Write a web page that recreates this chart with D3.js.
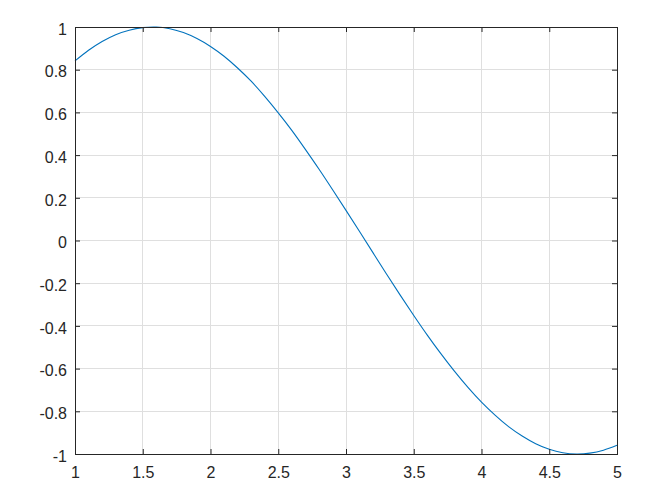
<!DOCTYPE html>
<html>
<head>
<meta charset="utf-8">
<script src="https://cdn.jsdelivr.net/npm/d3@7"></script>
<style>
  body { margin: 0; background: #fff; }
  svg { display: block; }
</style>
</head>
<body>
<div id="chart"></div>
<script>
// x positions and y values
var xs = [1.0, 1.1, 1.2, 1.3, 1.4, 1.5, 1.6, 1.7, 1.8, 1.9,
  2.0, 2.1, 2.2, 2.3, 2.4, 2.5, 2.6, 2.7, 2.8, 2.9,
  3.0, 3.1, 3.2, 3.3, 3.4, 3.5, 3.6, 3.7, 3.8, 3.9,
  4.0, 4.1, 4.2, 4.3, 4.4, 4.5, 4.6, 4.7, 4.8, 4.9, 5.0]
var ys = [0.841, 0.891, 0.932, 0.964, 0.985, 0.997, 1.000, 0.992, 0.974, 0.946,
  0.909, 0.863, 0.808, 0.746, 0.675, 0.598, 0.516, 0.427, 0.335, 0.239,
  0.141, 0.042, -0.058, -0.158, -0.256, -0.351, -0.443, -0.530, -0.612, -0.688,
  -0.757, -0.818, -0.872, -0.916, -0.952, -0.978, -0.994, -1.000, -0.996, -0.982, -0.959]

var xTicks = [1, 1.5, 2, 2.5, 3, 3.5, 4, 4.5, 5]
var yTicks = [-1, -0.8, -0.6, -0.4, -0.2, 0, 0.2, 0.4, 0.6, 0.8, 1]

var W = 655, H = 504
var margin = { top: 27, right: 38, bottom: 50, left: 75 },
  width = W - margin.left - margin.right,
  height = H - margin.top - margin.bottom

var svg = d3.select("#chart")
  .append("svg")
  .attr("width", W)
  .attr("height", H)
  .append("g")
  .attr("transform", "translate(" + margin.left + "," + margin.top + ")")

var x = d3.scaleLinear().domain([1, 5]).range([0, width])
var y = d3.scaleLinear().domain([-1, 1]).range([height, 0])

var fmt = function (d) { return String(d) }
var axisColor = "#262626"

// grid
svg.append("g")
  .selectAll("line.gx")
  .data(xTicks)
  .enter().append("line")
  .attr("x1", function (d) { return x(d) })
  .attr("x2", function (d) { return x(d) })
  .attr("y1", 0).attr("y2", height)
  .attr("stroke", "#dfdfdf")
  .attr("shape-rendering", "crispEdges")
svg.append("g")
  .selectAll("line.gy")
  .data(yTicks)
  .enter().append("line")
  .attr("y1", function (d) { return y(d) })
  .attr("y2", function (d) { return y(d) })
  .attr("x1", 0).attr("x2", width)
  .attr("stroke", "#dfdfdf")
  .attr("shape-rendering", "crispEdges")

// curve
var line = d3.line()
  .x(function (d, i) { return x(xs[i]) })
  .y(function (d) { return y(d) })
  .curve(d3.curveNatural)
svg.append("path")
  .datum(ys)
  .attr("d", line)
  .attr("fill", "none")
  .attr("stroke", "#0072BD")
  .attr("stroke-width", 1.1)

// axes, ticks pointing inward
function styleAxis(g) {
  g.select(".domain").remove()
  g.selectAll(".tick line").attr("stroke", axisColor)
  g.selectAll(".tick text")
    .attr("fill", axisColor)
    .style("font-family", "Liberation Sans, Arial, sans-serif")
    .style("font-size", "16px")
}

svg.append("g")
  .attr("transform", "translate(0," + height + ")")
  .call(d3.axisBottom(x).tickValues(xTicks).tickFormat(fmt).tickSizeInner(-5).tickSizeOuter(0).tickPadding(13))
  .call(styleAxis)
svg.append("g")
  .call(d3.axisTop(x).tickValues(xTicks).tickFormat("").tickSizeInner(-5).tickSizeOuter(0))
  .call(styleAxis)
svg.append("g")
  .call(d3.axisLeft(y).tickValues(yTicks).tickFormat(fmt).tickSizeInner(-5).tickSizeOuter(0).tickPadding(8))
  .call(styleAxis)
  .selectAll(".tick text").attr("dy", "0.45em")
svg.append("g")
  .attr("transform", "translate(" + width + ",0)")
  .call(d3.axisRight(y).tickValues(yTicks).tickFormat("").tickSizeInner(-5).tickSizeOuter(0))
  .call(styleAxis)

// box
svg.append("rect")
  .attr("x", 0).attr("y", 0)
  .attr("width", width).attr("height", height)
  .attr("fill", "none")
  .attr("stroke", axisColor)
  .attr("stroke-width", 1)
  .attr("shape-rendering", "crispEdges")
</script>
</body>
</html>
